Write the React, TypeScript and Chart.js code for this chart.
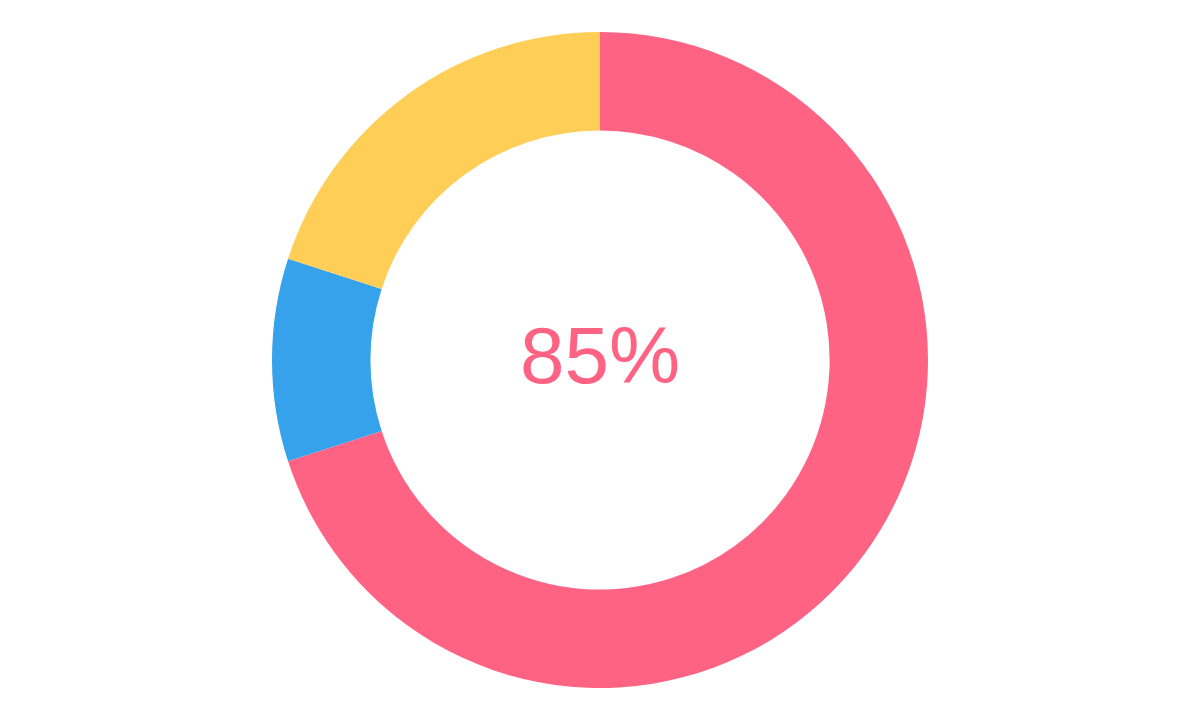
import React, { useEffect, useRef } from "react";
import { Chart, registerables } from "chart.js";

Chart.register(...registerables);

const labels = ["A", "B", "C"];
const values = [70, 10, 20];
const colors = ["#FF6384", "#36A2EB", "#FFCE56"];
const centerText = "85%";

const centerPlugin = {
  id: "centerText",
  afterDraw(chart: any) {
    const { ctx, chartArea } = chart;
    const cx = (chartArea.left + chartArea.right) / 2;
    const cy = (chartArea.top + chartArea.bottom) / 2;
    ctx.save();
    ctx.font = "80px 'Liberation Sans', Arial, sans-serif";
    ctx.fillStyle = "#FF6384";
    ctx.textAlign = "center";
    ctx.textBaseline = "alphabetic";
    ctx.fillText(centerText, cx, cy + 23);
    ctx.restore();
  },
};

export default function App() {
  const ref = useRef<HTMLCanvasElement>(null);
  useEffect(() => {
    const chart = new Chart(ref.current!, {
      type: "doughnut",
      data: {
        labels,
        datasets: [
          {
            data: values,
            backgroundColor: colors,
            borderWidth: 0,
          },
        ],
      },
      options: {
        animation: false,
        responsive: true,
        maintainAspectRatio: false,
        cutout: "70%",
        layout: { padding: 32 },
        plugins: { legend: { display: false }, tooltip: { enabled: false } },
      },
      plugins: [centerPlugin],
    });
    return () => chart.destroy();
  }, []);
  return (
    <div style={{ position: "absolute", left: 0, top: 0, width: 1200, height: 720, background: "#fff" }}>
      <canvas ref={ref} />
    </div>
  );
}
